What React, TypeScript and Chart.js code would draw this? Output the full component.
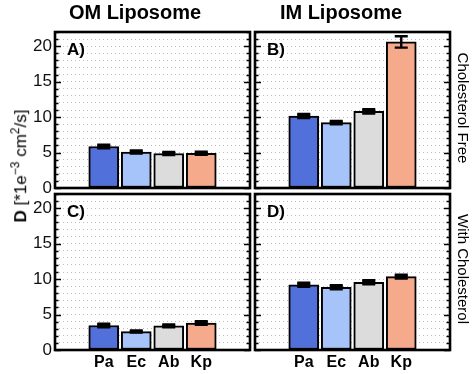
import React, { useEffect, useRef } from 'react';
import { Chart, registerables } from 'chart.js';
Chart.register(...registerables);

const categories = ['Pa', 'Ec', 'Ab', 'Kp'];
const barColors = ['#5170da', '#a6c4fa', '#dcdcdc', '#f5aa8b'];
const omFree = [5.85, 5.08, 4.86, 4.9];
const omFreeErr = [0.25, 0.22, 0.22, 0.22];
const imFree = [10.15, 9.22, 10.8, 20.6];
const imFreeErr = [0.28, 0.22, 0.3, 0.8];
const omChol = [3.45, 2.6, 3.4, 3.8];
const omCholErr = [0.25, 0.15, 0.2, 0.25];
const imChol = [9.2, 8.85, 9.55, 10.35];
const imCholErr = [0.28, 0.3, 0.28, 0.28];
const yTickValues = [0, 5, 10, 15, 20];
const colTitles = ['OM Liposome', 'IM Liposome'];
const rowTitles = ['Cholesterol Free', 'With Cholesterol'];
const panelLabels = ['A)', 'B)', 'C)', 'D)'];

const W = 474;
const H = 374;
const FONT = '"Liberation Sans", Arial, Helvetica, sans-serif';
const Y_MAX = 22;

const panels = [
  { label: panelLabels[0], values: omFree, errors: omFreeErr, left: 55, right: 250, top: 32, bottom: 188, yLabels: true, xLabels: false },
  { label: panelLabels[1], values: imFree, errors: imFreeErr, left: 255, right: 450, top: 32, bottom: 188, yLabels: false, xLabels: false },
  { label: panelLabels[2], values: omChol, errors: omCholErr, left: 55, right: 250, top: 194, bottom: 350, yLabels: true, xLabels: true },
  { label: panelLabels[3], values: imChol, errors: imCholErr, left: 255, right: 450, top: 194, bottom: 350, yLabels: false, xLabels: true },
];

const decoPlugin = {
  id: 'panelDeco',
  afterDatasetsDraw(chart: any, _args: any, opts: any) {
    const { ctx, chartArea: a, scales } = chart;
    const y = scales.y;
    const meta = chart.getDatasetMeta(0);
    const errs: number[] = opts.errors || [];
    const vals: number[] = opts.values || [];
    ctx.save();
    // error bars
    ctx.strokeStyle = '#000';
    ctx.lineWidth = 2.4;
    meta.data.forEach((bar: any, i: number) => {
      const x = bar.x;
      const yt = y.getPixelForValue(vals[i] + errs[i]);
      const yb = y.getPixelForValue(vals[i] - errs[i]);
      ctx.beginPath();
      ctx.moveTo(x, yt);
      ctx.lineTo(x, yb);
      ctx.moveTo(x - 6.5, yt);
      ctx.lineTo(x + 6.5, yt);
      ctx.moveTo(x - 6.5, yb);
      ctx.lineTo(x + 6.5, yb);
      ctx.stroke();
      if (yb - yt < 5) {
        ctx.fillStyle = '#000';
        ctx.fillRect(x - 6.5, yt, 13, yb - yt);
      }
    });
    // inward ticks
    ctx.lineWidth = 1.3;
    for (let v = 0; v <= Y_MAX; v++) {
      const py = Math.round(y.getPixelForValue(v)) + 0.5;
      const len = v % 5 === 0 ? 6 : 3.5;
      ctx.beginPath();
      ctx.moveTo(a.left, py);
      ctx.lineTo(a.left + len, py);
      ctx.moveTo(a.right, py);
      ctx.lineTo(a.right - len, py);
      ctx.stroke();
    }
    // frame
    ctx.lineWidth = 2.6;
    ctx.strokeRect(a.left, a.top, a.right - a.left, a.bottom - a.top);
    // panel label
    ctx.fillStyle = '#000';
    ctx.font = `bold 17px ${FONT}`;
    ctx.textBaseline = 'top';
    ctx.textAlign = 'left';
    ctx.fillText(opts.label, a.left + 12, a.top + 10);
    ctx.restore();
  },
};

function Panel({ cfg }: { cfg: any }) {
  const ref = useRef<HTMLCanvasElement>(null);
  useEffect(() => {
    const chart = new Chart(ref.current as HTMLCanvasElement, {
      type: 'bar',
      data: {
        datasets: [
          {
            data: cfg.values.map((v: number, i: number) => ({ x: i, y: v })),
            backgroundColor: barColors,
            borderColor: '#000',
            borderWidth: 2,
            borderSkipped: false,
            barThickness: 30,
          } as any,
        ],
      },
      options: {
        responsive: false,
        animation: false,
        layout: { padding: { left: 0, right: W - cfg.right, top: cfg.top, bottom: 0 } },
        plugins: {
          legend: { display: false },
          tooltip: { enabled: false },
          panelDeco: { label: cfg.label, values: cfg.values, errors: cfg.errors },
        } as any,
        scales: {
          x: {
            type: 'linear',
            min: -1,
            max: 4,
            afterFit: (s: any) => {
              s.height = H - cfg.bottom;
            },
            ticks: {
              display: cfg.xLabels,
              stepSize: 1,
              autoSkip: false,
              maxRotation: 0,
              padding: 3,
              color: '#000',
              font: { family: FONT, size: 16, weight: 'bold' },
              callback: (v: any) => categories[v as number] ?? '',
            },
            grid: { display: false, drawTicks: false },
            border: { display: false },
          },
          y: {
            min: 0,
            max: Y_MAX,
            afterFit: (s: any) => {
              s.width = cfg.left;
            },
            ticks: {
              display: cfg.yLabels,
              stepSize: 1,
              autoSkip: false,
              padding: 3,
              color: '#111',
              font: { family: FONT, size: 17 },
              callback: (v: any) => (yTickValues.includes(v as number) ? String(v) : ''),
            },
            grid: { color: '#bdbdbd', lineWidth: 1, drawTicks: false },
            border: { display: false, dash: [1, 3] },
          },
        },
      } as any,
      plugins: [decoPlugin],
    });
    return () => chart.destroy();
  }, [cfg]);
  return (
    <canvas
      ref={ref}
      width={W}
      height={H}
      style={{ position: 'absolute', left: 0, top: 0, width: W, height: H }}
    />
  );
}

export default function App() {
  const textBase: React.CSSProperties = {
    position: 'absolute',
    whiteSpace: 'nowrap',
    fontFamily: FONT,
    color: '#000',
    lineHeight: 1,
  };
  return (
    <div style={{ position: 'fixed', left: 0, top: 0, width: W, height: H, background: '#fff', overflow: 'hidden' }}>
      {panels.map((p) => (
        <Panel key={p.label} cfg={p} />
      ))}
      <div style={{ ...textBase, left: 135, top: 2, fontSize: 20, fontWeight: 'bold', transform: 'translateX(-50%)' }}>
        {colTitles[0]}
      </div>
      <div style={{ ...textBase, left: 341, top: 2, fontSize: 20, fontWeight: 'bold', transform: 'translateX(-50%)' }}>
        {colTitles[1]}
      </div>
      <div style={{ ...textBase, left: 463, top: 108, fontSize: 15, transform: 'translate(-50%, -50%) rotate(90deg)' }}>
        {rowTitles[0]}
      </div>
      <div style={{ ...textBase, left: 463, top: 269, fontSize: 15, transform: 'translate(-50%, -50%) rotate(90deg)' }}>
        {rowTitles[1]}
      </div>
      <div style={{ ...textBase, left: 19, top: 166, fontSize: 17, transform: 'translate(-50%, -50%) rotate(-90deg)' }}>
        <b>D</b> [*1e<sup style={{ fontSize: 12 }}>−3</sup> cm<sup style={{ fontSize: 12 }}>2</sup>/s]
      </div>
    </div>
  );
}
